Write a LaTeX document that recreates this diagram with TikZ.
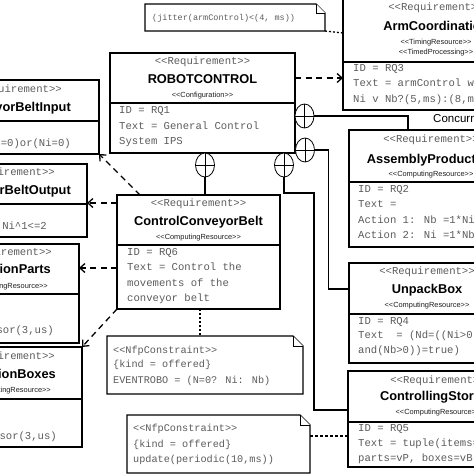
\documentclass[tikz,border=0pt]{standalone}
\usepackage{fontspec}
\newfontfamily\monof{Liberation Mono}
\newfontfamily\sansf{Liberation Sans}
\usetikzlibrary{arrows.meta,shapes.geometric}
\definecolor{txtgray}{HTML}{5C5C5C}
\definecolor{stgray}{HTML}{1E1E1E}
\newcommand\stt[1]{<\kern0pt<#1>\kern0pt>}
\newcounter{tn}
\newcommand\tx[4]{\stepcounter{tn}\node[#1] (tx\arabic{tn}) at (#2,#3) {#4};}
\newcommand\notedraw[2]{%
  \draw[noteline] (#1.north west) -- ([xshift=-#2]#1.north east) -- ([yshift=-#2]#1.north east) -- (#1.south east) -- (#1.south west) -- cycle;
  \draw[noteline,line width=0.8pt] ([xshift=-#2]#1.north east) |- ([yshift=-#2]#1.north east);}
\tikzset{
  umlbox/.style={rectangle, draw=black, line width=1.3pt, fill=white, inner sep=0pt, outer sep=0pt, anchor=north west},
  notebox/.style={rectangle, draw=none, inner sep=0pt, outer sep=0pt, anchor=north west},
  noteline/.style={draw=black, line width=1.3pt, fill=white, line join=miter},
  divline/.style={line width=1.3pt},
  mono/.style={font=\monof\fontsize{10.6}{13}\selectfont, text=txtgray, inner sep=0pt, text height=7pt, text depth=0pt, anchor=west},
  monoE/.style={mono, anchor=east},
  rq/.style={mono, anchor=center},
  rqE/.style={mono, anchor=east},
  notet/.style={font=\monof\fontsize{10.2}{13}\selectfont, text=txtgray, inner sep=0pt, text height=6.8pt, text depth=0pt, anchor=west},
  jit/.style={font=\monof\fontsize{8.5}{10}\selectfont, text=txtgray, inner sep=0pt, text height=5.6pt, text depth=0pt, anchor=west},
  ttl/.style={font=\sansf\bfseries\fontsize{12.8}{14}\selectfont, text=black, inner sep=0pt, text height=9.2pt, text depth=0pt, anchor=center},
  ttlE/.style={ttl, anchor=east},
  st/.style={font=\sansf\fontsize{7.4}{9}\selectfont, text=stgray, inner sep=0pt, text height=5.3pt, text depth=0pt, anchor=center},
  stE/.style={st, anchor=east},
  lbl/.style={font=\sansf\fontsize{11.5}{13}\selectfont, text=black, inner sep=0pt, text height=8.2pt, text depth=0pt, anchor=west},
  contain/.style={ellipse, draw=black, line width=0.8pt, fill=white, minimum width=19pt, minimum height=24pt, inner sep=0pt, outer sep=0pt,
    path picture={\draw[line width=0.8pt] (path picture bounding box.north) -- (path picture bounding box.south) (path picture bounding box.west) -- (path picture bounding box.east);}},
  dep/.style={line width=1.3pt, dash pattern=on 6pt off 4.5pt, -{Straight Barb[length=5pt,width=9pt]}},
  dotl/.style={line width=1.3pt, dash pattern=on 2pt off 2pt},
  dashl/.style={line width=1.1pt, dash pattern=on 3pt off 2pt},
  conn/.style={line width=1.3pt, line join=miter}
}
\begin{document}
\begin{tikzpicture}[x=1pt,y=-1pt]
\useasboundingbox (0,0) rectangle (474,474);
\clip (0,0) rectangle (474,474);
\fill[white] (0,0) rectangle (474,474);

% ---------- boxes ----------
\node[umlbox, minimum width=185pt, minimum height=100pt] (robot) at (110,53) {};
\draw[divline] (110,103) -- (295,103);
\node[umlbox, minimum width=163pt, minimum height=114pt] (ccb) at (117,195) {};
\draw[divline] (117,245) -- (280,245);
\node[umlbox, minimum width=186pt, minimum height=111pt] (arm) at (343,-1) {};
\draw[divline] (343,62) -- (529,62);
\node[umlbox, minimum width=164pt, minimum height=117pt] (ap) at (349,130) {};
\draw[divline] (349,182) -- (513,182);
\node[umlbox, minimum width=156pt, minimum height=100pt] (ub) at (349,263) {};
\draw[divline] (349,314) -- (505,314);
\node[umlbox, minimum width=180pt, minimum height=96pt] (cs) at (348,371) {};
\draw[divline] (348,422) -- (528,422);
\node[umlbox, minimum width=179pt, minimum height=74pt] (bA) at (-80,80) {};
\draw[divline] (-80,121) -- (99,121);
\node[umlbox, minimum width=167pt, minimum height=73pt] (bB) at (-80,164) {};
\draw[divline] (-80,204) -- (87,204);
\node[umlbox, minimum width=159pt, minimum height=99pt] (bC) at (-80,244) {};
\draw[divline] (-80,294) -- (79,294);
\node[umlbox, minimum width=162pt, minimum height=100pt] (bD) at (-80,347) {};
\draw[divline] (-80,399) -- (82,399);

% ---------- notes ----------
\node[notebox, minimum width=180pt, minimum height=27pt] (jn) at (145,4) {};
\notedraw{jn}{9pt}
\node[notebox, minimum width=196pt, minimum height=58pt] (n1) at (107,336) {};
\notedraw{n1}{10pt}
\node[notebox, minimum width=183pt, minimum height=58pt] (n2) at (127,415) {};
\notedraw{n2}{10pt}

% ---------- texts ----------
\tx{rq}{202.5}{61}{\stt{Requirement}}
\tx{ttl}{202.5}{79}{ROBOTCONTROL}
\tx{st}{202.5}{95}{\stt{Configuration}}
\tx{mono}{119}{109.5}{ID = RQ1}
\tx{mono}{119}{125.5}{Text = General Control}
\tx{mono}{119}{141}{System IPS}

\tx{rq}{198.5}{203}{\stt{Requirement}}
\tx{ttl}{198.5}{221}{ControlConveyorBelt}
\tx{st}{198.5}{237}{\stt{ComputingResource}}
\tx{mono}{127}{252}{ID = RQ6}
\tx{mono}{127}{267}{Text = Control the}
\tx{mono}{127}{283}{movements of the}
\tx{mono}{127}{298}{conveyor belt}

\tx{rq}{436}{7}{\stt{Requirement}}
\tx{ttl}{436}{26}{ArmCoordination}
\tx{st}{436}{42}{\stt{TimingResource}}
\tx{st}{436}{52}{\stt{TimedProcessing}}
\tx{mono}{353}{68}{ID = RQ3}
\tx{mono}{353}{83}{Text = armControl w}
\tx{mono}{353}{99}{Ni v Nb?(5,ms):(8,ms)}

\tx{rq}{431}{139}{\stt{Requirement}}
\tx{ttl}{431}{159}{AssemblyProduction}
\tx{st}{431}{174}{\stt{ComputingResource}}
\tx{mono}{358}{189}{ID = RQ2}
\tx{mono}{358}{204}{Text =}
\tx{mono}{358}{220}{Action 1: Nb =1*Ni}
\tx{mono}{358}{235}{Action 2: Ni =1*Nb}

\tx{rq}{427}{271}{\stt{Requirement}}
\tx{ttl}{427}{289}{UnpackBox}
\tx{st}{427}{305}{\stt{ComputingResource}}
\tx{mono}{358}{321}{ID = RQ4}
\tx{mono}{358}{335}{Text\ \ = (Nd=((Ni>0)}
\tx{mono}{358}{350}{and(Nb>0))=true)}

\tx{rq}{438}{380}{\stt{Requirement}}
\tx{ttl}{438}{396}{ControllingStorage}
\tx{st}{438}{412}{\stt{ComputingResource}}
\tx{mono}{358}{428}{ID = RQ5}
\tx{mono}{358}{443}{Text = tuple(items=}
\tx{mono}{358}{458}{parts=vP, boxes=vB}

\tx{rqE}{62}{89}{\stt{Requirement}}
\tx{ttlE}{71}{107}{ConveyorBeltInput}
\tx{monoE}{71}{143}{=0)or(Ni=0)}

\tx{rqE}{55}{172}{\stt{Requirement}}
\tx{ttlE}{71}{190}{ConveyorBeltOutput}
\tx{monoE}{47}{226}{Ni\textasciicircum 1<=2}

\tx{rqE}{52}{252}{\stt{Requirement}}
\tx{ttlE}{51}{269}{ionParts}
\tx{stE}{48}{286}{\stt{ComputingResource}}
\tx{monoE}{54}{330}{sor(3,us)}

\tx{rqE}{55}{356}{\stt{Requirement}}
\tx{ttlE}{56}{374}{ionBoxes}
\tx{stE}{51}{390}{\stt{ComputingResource}}
\tx{monoE}{57}{436}{sor(3,us)}

\tx{jit}{152}{18}{(jitter(armControl)<(4, ms))}
\tx{notet}{113}{350}{\stt{NfpConstraint}}
\tx{notet}{113}{364}{\{kind = offered\}}
\tx{notet}{113}{380}{EVENTROBO = (N=0? Ni: Nb)}
\tx{notet}{133}{428}{\stt{NfpConstraint}}
\tx{notet}{133}{444}{\{kind = offered\}}
\tx{notet}{133}{459}{update(periodic(10,ms))}

\tx{lbl}{433}{118}{Concurrency}

% ---------- containment ----------
\node[contain] (c1) at (304.5,116) {};
\node[contain] (c2) at (305,150) {};
\node[contain] (c3) at (284,165) {};
\node[contain] (c4) at (205,165) {};
\draw[conn] (c1.east) -| ([xshift=59pt]ap.north west);
\draw[conn] (c2.east) -- ++(14,0) |- ([yshift=-26pt]ub.north west);
\draw[conn] (c3.south) -- ++(0,16) -- ++(30,0) |- ([yshift=-39pt]cs.north west);
\draw[conn] (c4.south) -- (c4.south |- ccb.north);

% ---------- dependencies ----------
\draw[dep] ([yshift=-25pt]robot.north east) coordinate (s1) -- (s1 -| arm.west);
\draw[dep] ([xshift=23pt]ccb.north west) -- (bA.south east);
\draw[dep] ([yshift=-8pt]ccb.north west) coordinate (s2) -- (s2 -| bB.east);
\draw[dep] ([yshift=-73pt]ccb.north west) coordinate (s3) -- (s3 -| bC.east);
\draw[dep] (ccb.south west) -- (bD.north east);
\draw[dotl] ([xshift=1.5pt]ccb.south) coordinate (s4) -- (s4 |- n1.north);
\draw[dotl] (jn.south east) -- ([yshift=-34pt]arm.north west);
\draw[dashl] ([yshift=-21pt]n2.north east) coordinate (s5) -- (s5 -| cs.west);
\end{tikzpicture}
\end{document}
